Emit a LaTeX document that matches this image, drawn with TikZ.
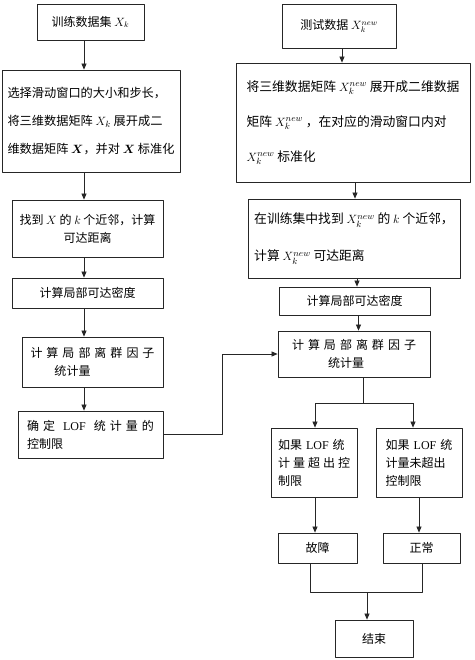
\documentclass[tikz,border=0pt]{standalone}
\usepackage{fontspec}
\usepackage{bm}
\setmainfont{Noto Sans CJK SC}
\newfontfamily\lat{Liberation Serif}
\usetikzlibrary{arrows.meta}
\newcommand\lof{{\lat LOF}}
\newcommand\gap{\hspace{4pt}}
\newcommand\xn{$X_k^{new}$}
\begin{document}
\begin{tikzpicture}[x=1pt,y=-1pt,line join=round,
	box/.style={draw=black!85,line width=0.8pt,align=left,inner sep=0pt,font=\fontsize{12}{18}\selectfont},
	arr/.style={-{Triangle[length=6pt,width=5pt]},line width=0.7pt,draw=black!85}]
	\useasboundingbox (0,0) rectangle (474,660);
	%==cot trai: du lieu huan luyen
	\node[box,minimum width=107,minimum height=36] (b1) at (90.5,22) {训练数据集 $X_k$};
	\node[box,minimum width=178,minimum height=102,font=\fontsize{12.2}{27.5}\selectfont] (b2) at (91,121)
		{选择滑动窗口的大小和步长，\\将三维数据矩阵 $X_k$ 展开成二\\维数据矩阵 $\bm{X}$，并对 $\bm{X}$ 标准化};
	\node[box,minimum width=151,minimum height=57,align=center] (b3) at (87.5,228.5) {找到 $X$ 的 $k$ 个近邻，计算\\可达距离};
	\node[box,minimum width=151,minimum height=30] (b4) at (87.5,293) {计算局部可达密度};
	\node[box,minimum width=141,minimum height=50] (b5) at (92.5,362)
		{计\gap 算\gap 局\gap 部\gap 离\gap 群\gap 因\gap 子\\\hspace*{2em}统计量};
	\node[box,minimum width=145,minimum height=47] (b6) at (90.5,434.5)
		{确\gap 定\gap\gap \lof\gap\gap 统\gap 计\gap 量\gap 的\\控制限};
	%==cot phai: du lieu kiem tra
	\node[box,minimum width=114,minimum height=44] (r1) at (339,26) {测试数据 \xn};
	\node[box,minimum width=234,minimum height=119,font=\fontsize{12.8}{35}\selectfont] (r2) at (353,122.5)
		{将三维数据矩阵 \xn\ 展开成二维数据\\矩阵 \xn\ ，在对应的滑动窗口内对\\\xn\ 标准化};
	\node[box,minimum width=212,minimum height=79,font=\fontsize{12.8}{37}\selectfont] (r3) at (354,238.5)
		{在训练集中找到 \xn\ 的 $k$ 个近邻，\\计算 \xn\ 可达距离};
	\node[box,minimum width=151,minimum height=28] (r4) at (354.5,301) {计算局部可达密度};
	\node[box,minimum width=152,minimum height=46] (r5) at (354,354)
		{计\gap 算\gap 局\gap 部\gap 离\gap 群\gap 因\gap 子\\\hspace*{3em}统计量};
	\node[box,minimum width=86,minimum height=69] (r6a) at (314,462.5)
		{如果\gap \lof\gap 统\\计\hspace{3pt}量\hspace{3pt}超\hspace{3pt}出\hspace{3pt}控\\制限};
	\node[box,minimum width=86,minimum height=69] (r6b) at (419,462.5)
		{如果\gap \lof\gap 统\\计量未超出\\控制限};
	\node[box,minimum width=79,minimum height=30] (r7a) at (317.5,548) {故障};
	\node[box,minimum width=77,minimum height=30] (r7b) at (421.5,548) {正常};
	\node[box,minimum width=78,minimum height=37] (r8) at (374,638.5) {结束};
	%==cac diem re nhanh
	\coordinate (lx) at (84,0);
	\coordinate (bend) at (222,0);
	\coordinate (sp) at (363,403);
	\coordinate (spl) at (315,403);
	\coordinate (spr) at (413,403);
	\coordinate (ml) at (310,592);
	\coordinate (mr) at (422,592);
	\coordinate (mg) at (367,592);
	%==mui ten
	\foreach \u/\v in {b1/b2,b2/b3,b3/b4,b4/b5,b5/b6}\draw[arr] (\u.south-|lx)--(\v.north-|lx);
	\foreach \u/\v/\s in {r1/r2/3,r2/r3/2,r3/r4/3,r4/r5/4}\draw[arr] ([xshift=\s]\u.south)--([xshift=\s]\u.south|-\v.north);
	\draw[arr] (b6.east)--(b6.east-|bend)--(bend|-r5.west)--(r5.west);
	\draw[line width=0.7pt,black!85] (r5.south-|sp)--(sp) (spl)--(spr);
	\draw[arr] (spl)--(spl|-r6a.north);
	\draw[arr] (spr)--(spr|-r6b.north);
	\draw[arr] (r6a.south-|spl)--(r7a.north-|spl);
	\draw[arr] (r6b.south)--(r6b.south|-r7b.north);
	\draw[line width=0.7pt,black!85] (r7a.south-|ml)--(ml)--(mr)--(r7b.south-|mr);
	\draw[arr] (mg)--(mg|-r8.north);
\end{tikzpicture}
\end{document}
